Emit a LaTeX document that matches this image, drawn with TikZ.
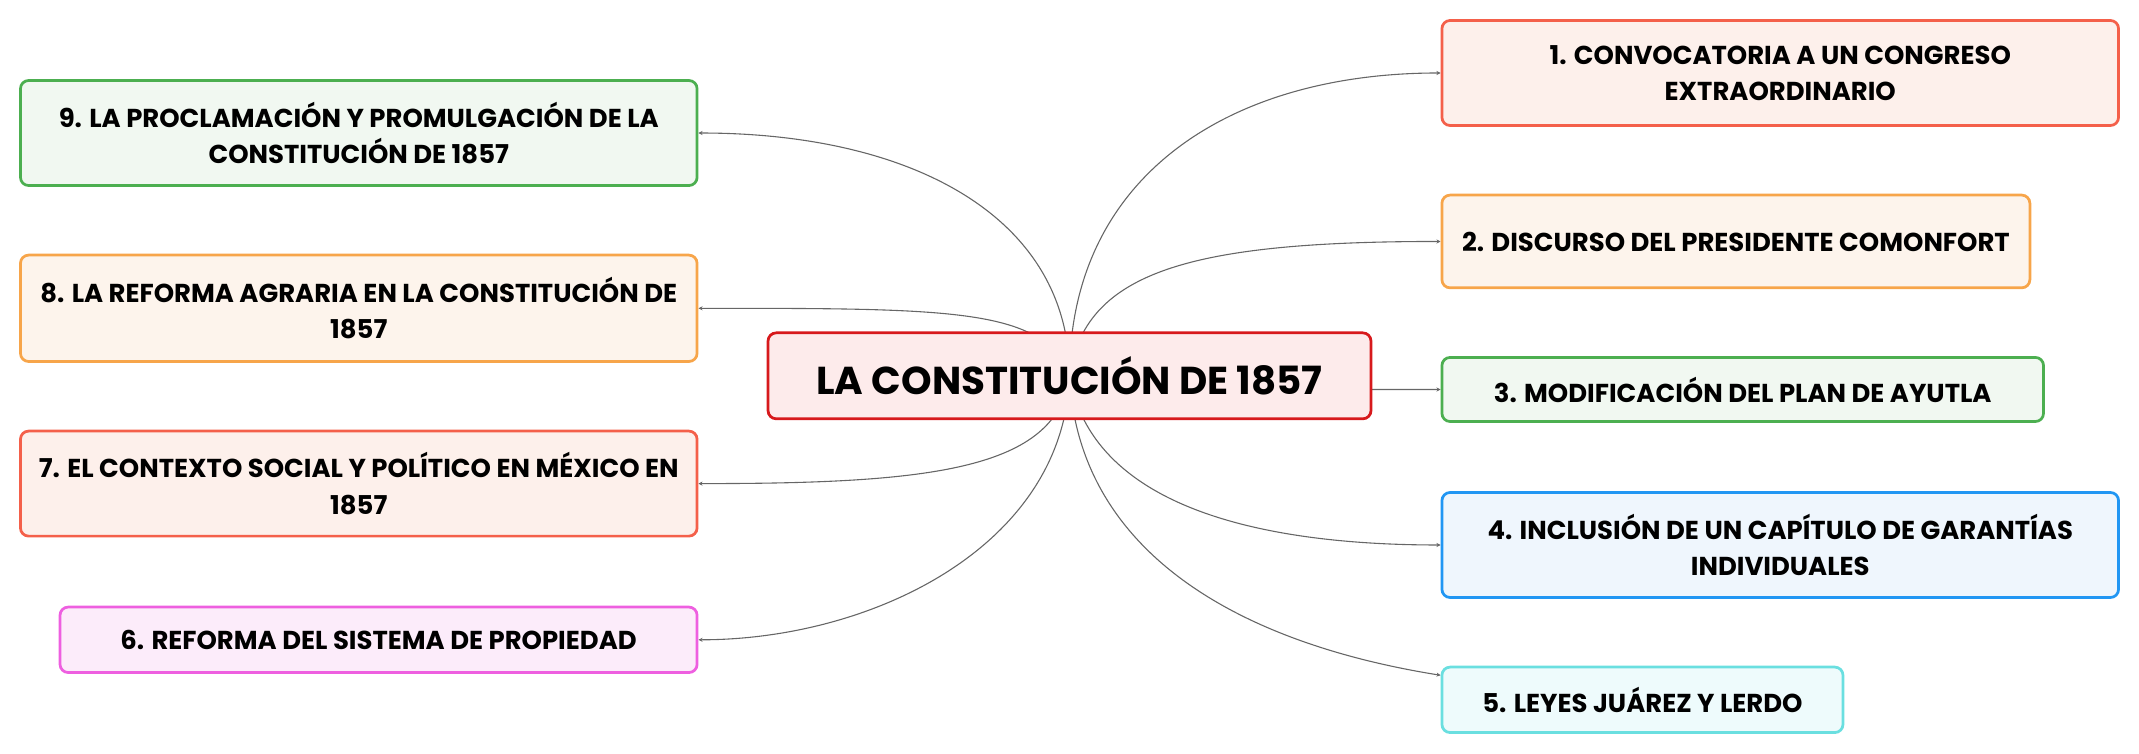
\documentclass[tikz,border=0pt]{standalone}
\usepackage{fontspec}
\setmainfont{Poppins}
\usetikzlibrary{arrows.meta}
\pgfdeclarelayer{bg}
\pgfsetlayers{bg,main}
\definecolor{lnk}{HTML}{666666}
\definecolor{rootB}{HTML}{D7191C}\definecolor{rootF}{HTML}{FDEBEB}
\definecolor{redB}{HTML}{F4604A}\definecolor{redF}{HTML}{FDF0EB}
\definecolor{orgB}{HTML}{F7A54A}\definecolor{orgF}{HTML}{FDF4EC}
\definecolor{grnB}{HTML}{4CAF50}\definecolor{grnF}{HTML}{F1F8F1}
\definecolor{bluB}{HTML}{2196F3}\definecolor{bluF}{HTML}{EFF6FD}
\definecolor{cyaB}{HTML}{6ADFE0}\definecolor{cyaF}{HTML}{EEFBFC}
\definecolor{magB}{HTML}{EE5FE0}\definecolor{magF}{HTML}{FCECFA}
\begin{document}
\begin{tikzpicture}[x=1pt,y=-1pt,
  box/.style={draw, line width=2pt, rounded corners=6pt, inner sep=0pt, align=center,
    font=\fontsize{19}{26.5}\selectfont\bfseries, text=black},
  rootbox/.style={box, draw=rootB, fill=rootF, font=\fontsize{28.5}{32}\selectfont\bfseries},
  link/.style={draw=lnk, line width=0.8pt, -{Stealth[length=3pt,width=3pt]}},
  sz/.style 2 args={minimum width=#1pt, minimum height=#2pt}]
\useasboundingbox (0,0) rectangle (1568,552);
\node[rootbox, sz={442}{63}] (root) at (784,275.5) {LA CONSTITUCIÓN DE 1857};
\node[box, draw=redB, fill=redF, sz={496}{77}] (b1) at (1305,53.5) {1. CONVOCATORIA A UN CONGRESO\\EXTRAORDINARIO};
\node[box, draw=orgB, fill=orgF, sz={431}{68}] (b2) at (1272.5,177) {2. DISCURSO DEL PRESIDENTE COMONFORT};
\node[box, draw=grnB, fill=grnF, sz={441}{47}] (b3) at (1277.5,285.5) {3. MODIFICACIÓN DEL PLAN DE AYUTLA};
\node[box, draw=bluB, fill=bluF, sz={496}{77}] (b4) at (1305,399.5) {4. INCLUSIÓN DE UN CAPÍTULO DE GARANTÍAS\\INDIVIDUALES};
\node[box, draw=cyaB, fill=cyaF, sz={294}{48}] (b5) at (1204,513) {5. LEYES JUÁREZ Y LERDO};
\node[box, draw=magB, fill=magF, sz={467}{48}] (b6) at (277.5,469) {6. REFORMA DEL SISTEMA DE PROPIEDAD};
\node[box, draw=redB, fill=redF, sz={496}{77}] (b7) at (263,354.5) {7. EL CONTEXTO SOCIAL Y POLÍTICO EN MÉXICO EN\\1857};
\node[box, draw=orgB, fill=orgF, sz={496}{78}] (b8) at (263,226) {8. LA REFORMA AGRARIA EN LA CONSTITUCIÓN DE\\1857};
\node[box, draw=grnB, fill=grnF, sz={496}{77}] (b9) at (263,97.5) {9. LA PROCLAMACIÓN Y PROMULGACIÓN DE LA\\CONSTITUCIÓN DE 1857};
\coordinate (e5) at (b5.north west |- 0,495);
\begin{pgfonlayer}{bg}
\draw[link] (root.center) .. controls (784,130) and (900,53.5) .. (b1.west);
\draw[link] (root.center) .. controls (795,200) and (870,177) .. (b2.west);
\draw[link] (root.center) .. controls (850,285.5) and (900,285.5) .. (b3.west);
\draw[link] (root.center) .. controls (800,370) and (920,399.5) .. (b4.west);
\draw[link] (root.center) .. controls (790,400) and (900,470) .. (e5);
\draw[link] (root.center) .. controls (780,400) and (640,469) .. (b6.east);
\draw[link] (root.center) .. controls (775,345) and (680,354.5) .. (b7.east);
\draw[link] (root.center) .. controls (765,226) and (700,226) .. (b8.east);
\draw[link] (root.center) .. controls (784,160) and (670,97.5) .. (b9.east);
\end{pgfonlayer}
\end{tikzpicture}
\end{document}
